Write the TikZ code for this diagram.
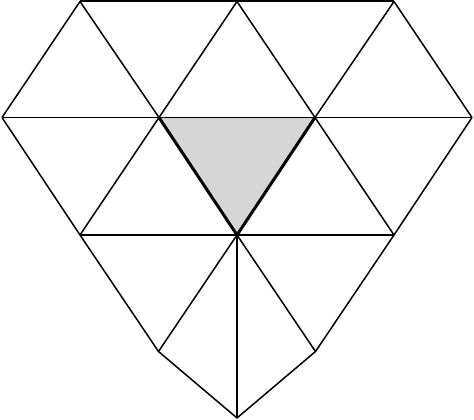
\documentclass[tikz,border=0pt]{standalone}
\begin{document}
\begin{tikzpicture}[x=1pt,y=-1pt,
  edge/.style={draw=black,line width=1.5pt,line join=round},
  thickedge/.style={draw=black,line width=3pt,line join=round,line cap=round},
  shade/.style={fill=black!16}]
\useasboundingbox (0,0) rectangle (474,420);
% vertices
\coordinate (t1) at (80,1.5);
\coordinate (t2) at (237,1.5);
\coordinate (t3) at (394,1.5);
\coordinate (m1) at (2,117.5);
\coordinate (m2) at (159,117.5);
\coordinate (m3) at (315,117.5);
\coordinate (m4) at (472,117.5);
\coordinate (r1) at (80,235);
\coordinate (r2) at (237,235);
\coordinate (r3) at (394,235);
\coordinate (b1) at (158.5,351.5);
\coordinate (b2) at (315.5,351.5);
\coordinate (bt) at (237,418);
% shaded triangle
\fill[shade] (m2) -- (m3) -- (r2) -- cycle;
% horizontals
\draw[edge,line width=2pt] (t1) -- (t3);
\draw[edge] (m1) -- (m4);
\draw[edge] (r1) -- (r3);
% top row
\draw[edge] (m1) -- (t1) -- (m2) -- (t2) -- (m3) -- (t3) -- (m4);
% middle row
\draw[edge] (m1) -- (r1) -- (m2);
\draw[edge] (m3) -- (r3) -- (m4);
% bottom
\draw[edge] (r1) -- (b1) -- (r2) -- (b2) -- (r3);
\draw[edge] (r2) -- (bt);
\draw[edge] (b1) -- (bt) -- (b2);
% shaded triangle outline
\draw[thickedge] (m2) -- (r2) -- (m3);
\draw[edge,line width=1.8pt] (m2) -- (m3);
\end{tikzpicture}
\end{document}
